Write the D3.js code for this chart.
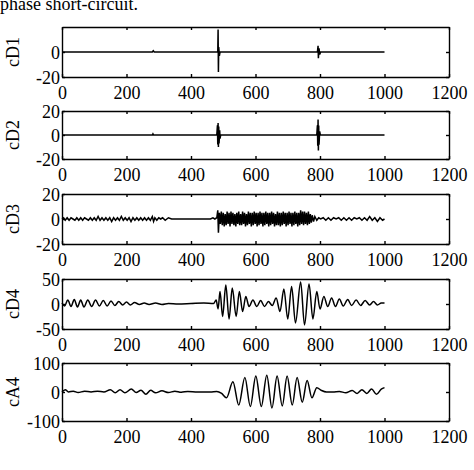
<!DOCTYPE html>
<html><head><meta charset="utf-8">
<script src="https://cdn.jsdelivr.net/npm/d3@7"></script>
<style>body{margin:0;background:#fff}text{font-family:"Liberation Serif",serif}</style>
</head><body><div id="chart"></div>
<script>
// extrema / sample points: [x, y]
var cD1 = [[0,0],[280,0],[283,1],[286,0],[483,0],[484,18],[485,-16],[486,4],[488,-3],[490,0],
  [792,0],[794,5],[795,-5],[797,3],[799,-2],[802,0],[1000,0]];
var cD2 = [[0,0],[280,0],[282,1],[284,0],[480,0],[482,8],[483,-8],[484,10],[485,-10],[486,7],[487,-7],
  [489,4],[490,-3],[492,0],[790,0],[792,8],[793,-9],[794,13],[795,-13],[796,8],[797,-8],[799,3],[801,0],[1000,0]];
var cD3 = [[0,0],[5,1],[10,-1],[16,1],[22,-1],[28,1],[34,0],[40,-1],[46,1],[52,-1],[58,1],[64,-1],[70,1],
  [76,0],[82,-1],[88,1],[94,-1],[100,1],[106,-1],[112,2],[118,-1],[124,1],[130,-1],[136,1],[142,-1],
  [148,1],[154,-2],[160,1],[166,-1],[172,1],[178,-1],[184,2],[190,-1],[196,1],[202,-1],[208,1],[214,-2],
  [220,1],[226,-1],[232,1],[238,-1],[244,1],[250,-1],[256,1],[262,-1],[268,1],[274,-1],[280,2],[284,-2],
  [288,1],[294,-1],[300,1],[306,0],[312,1],[320,-1],[330,1],[340,0],[460,0],[468,1],[474,0],[480,1],
  [483,7],[485,-11],[488,5],[491,-4],[494,6],[497,-5],[500,5],[503,-6],[506,4],[509,-5],[512,6],[515,-4],
  [518,5],[521,-6],[524,6],[527,-4],[530,5],[533,-5],[536,4],[539,-6],[542,5],[545,-4],[548,6],[551,-5],
  [554,4],[557,-5],[560,6],[563,-4],[566,5],[569,-6],[572,4],[575,-5],[578,6],[581,-4],[584,5],[587,-6],
  [590,5],[593,-5],[596,6],[599,-4],[602,5],[605,-6],[608,5],[611,-5],[614,6],[617,-4],[620,5],[623,-6],
  [626,5],[629,-5],[632,6],[635,-4],[638,5],[641,-6],[644,5],[647,-5],[650,6],[653,-4],[656,5],[659,-6],
  [662,4],[665,-5],[668,6],[671,-5],[674,5],[677,-6],[680,5],[683,-5],[686,6],[689,-4],[692,5],[695,-6],
  [698,5],[701,-5],[704,6],[707,-4],[710,5],[713,-6],[716,5],[719,-5],[722,6],[725,-4],[728,5],[731,-6],
  [734,5],[737,-5],[740,7],[743,-4],[746,6],[749,-5],[752,6],[755,-4],[758,5],[761,-5],[764,6],[767,-4],
  [770,4],[773,-3],[776,3],[780,-2],[784,2],[790,-1],[796,1],[802,0],[810,1],[818,-1],[826,1],[834,-1],
  [842,1],[850,0],[858,1],[866,-1],[874,1],[882,-1],[890,1],[898,-1],[906,1],[914,0],[922,1],[930,-1],
  [938,1],[946,-1],[954,2],[962,-1],[970,1],[978,-2],[986,1],[994,-1],[1000,0]];
var cD4 = [[0,2],[8,-4],[18,8],[28,-5],[38,9],[48,-6],[58,8],[68,-6],[80,8],[92,-5],[104,8],[116,-4],
  [128,7],[140,-4],[152,6],[164,-3],[176,5],[188,-2],[200,4],[212,-2],[225,3],[240,-1],[255,2],[270,-1],
  [290,2],[310,-1],[330,1],[360,0],[400,1],[440,2],[470,1],[478,8],[484,-10],[490,25],[498,-25],[508,38],
  [518,-30],[528,32],[540,-25],[550,25],[560,-15],[570,15],[580,-5],[592,8],[604,-5],[616,7],[628,-5],
  [640,5],[652,-3],[664,12],[676,-15],[688,30],[700,-30],[712,35],[724,-38],[740,44],[752,-42],[766,40],
  [778,-30],[790,25],[800,-10],[812,15],[824,-5],[836,12],[848,-5],[860,10],[872,-4],[886,9],[898,-3],
  [912,8],[926,-3],[940,7],[954,-2],[966,5],[978,-2],[990,2],[1000,2]];
var cA4 = [[0,0],[10,8],[20,0],[35,3],[50,-2],[70,3],[90,0],[110,3],[130,0],[150,8],[165,-3],[180,8],
  [195,-3],[215,10],[230,-2],[245,6],[260,-8],[275,6],[290,-3],[310,4],[330,-2],[350,3],[370,-1],[390,2],
  [420,0],[460,0],[480,2],[495,-5],[510,-20],[530,35],[548,-45],[567,50],[584,-50],[601,55],[618,-50],
  [635,58],[651,-55],[667,55],[683,-48],[698,55],[714,-45],[729,50],[745,-35],[760,40],[775,-20],[790,15],
  [805,5],[820,0],[840,0],[860,2],[880,-3],[900,5],[915,-5],[930,8],[945,-5],[960,10],[975,-8],[990,10],[1000,15]];

var panels = [
  {name: "cD1", data: cD1, dom: [-20, 20], ticks: [-20, 0], top: 27, h: 50, smooth: false},
  {name: "cD2", data: cD2, dom: [-20, 20], ticks: [-20, 0, 20], top: 111, h: 48, smooth: false},
  {name: "cD3", data: cD3, dom: [-20, 20], ticks: [-20, 0, 20], top: 194, h: 50, smooth: false},
  {name: "cD4", data: cD4, dom: [-50, 50], ticks: [-50, 0, 50], top: 279, h: 50, smooth: true},
  {name: "cA4", data: cA4, dom: [-100, 100], ticks: [-100, 0, 100], top: 363, h: 58, smooth: true}
];
var xTicks = [0, 200, 400, 600, 800, 1000, 1200];

var svg = d3.select("#chart").append("svg").attr("width", 474).attr("height", 470);
svg.append("text").attr("x", 0).attr("y", 10).attr("font-size", 18).text("phase short-circuit.");

var x = d3.scaleLinear().domain([0, 1200]).range([62, 449]);
var fmt = function(d) { return String(d); };

panels.forEach(function(p) {
  var y = d3.scaleLinear().domain(p.dom).range([p.top + p.h, p.top]);
  var g = svg.append("g");
  var line = d3.line().x(function(d) { return x(d[0]); }).y(function(d) { return y(d[1]); })
    .curve(p.smooth ? d3.curveMonotoneX : d3.curveLinear);
  g.append("path").datum(p.data).attr("d", line).attr("fill", "none")
    .attr("stroke", "#000").attr("stroke-width", 1.5);

  var bx = g.append("g").attr("transform", "translate(0," + (p.top + p.h) + ")")
    .call(d3.axisBottom(x).tickValues(xTicks).tickSizeInner(-3).tickSizeOuter(0).tickPadding(8).tickFormat(fmt));
  var tx = g.append("g").attr("transform", "translate(0," + p.top + ")")
    .call(d3.axisTop(x).tickValues(xTicks).tickSizeInner(-3).tickSizeOuter(0).tickFormat(""));
  var ly = g.append("g").attr("transform", "translate(62,0)")
    .call(d3.axisLeft(y).tickValues(p.ticks).tickSizeInner(-3).tickSizeOuter(0).tickPadding(2).tickFormat(fmt));
  var ry = g.append("g").attr("transform", "translate(449,0)")
    .call(d3.axisRight(y).tickValues(p.ticks).tickSizeInner(-3).tickSizeOuter(0).tickFormat(""));
  [bx, tx, ly, ry].forEach(function(a) {
    a.selectAll("path,line").attr("stroke", "#000").attr("stroke-width", 1.4);
    a.selectAll("text").attr("font-family", "Liberation Serif").attr("font-size", 18).attr("fill", "#000");
  });
  bx.selectAll("text").attr("dy", "0.75em");
  ly.selectAll("text").attr("dy", "0.35em");

  svg.append("text").attr("transform", "translate(19," + (p.top + p.h / 2) + ") rotate(-90)")
    .attr("text-anchor", "middle").attr("font-size", 18).text(p.name);
});
</script></body></html>
